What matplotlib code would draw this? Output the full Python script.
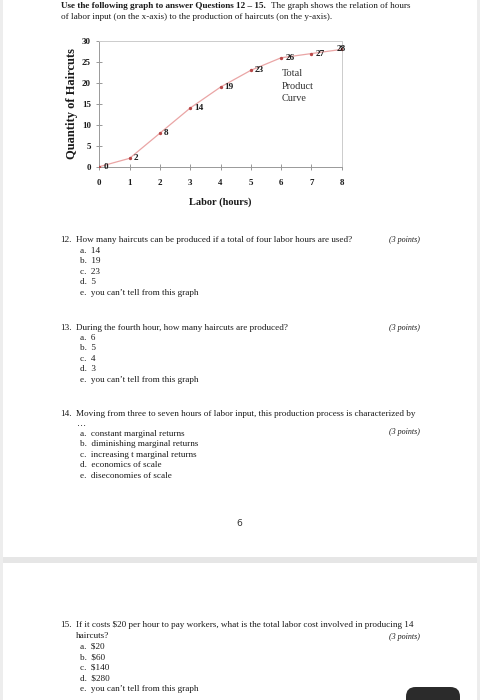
import matplotlib
matplotlib.use("Agg")
from matplotlib import pyplot as plt
from matplotlib.patches import Rectangle, FancyBboxPatch
import numpy as np

plt.rcParams['font.family'] = ['Liberation Serif', 'DejaVu Serif']

hours = [0, 1, 2, 3, 4, 5, 6, 7, 8]
haircuts = [0, 2, 8, 14, 19, 23, 26, 27, 28]
yticks = [0, 5, 10, 15, 20, 25, 30]

W, H = 480, 700
fig = plt.figure(figsize=(W / 100, H / 100), dpi=100)
ink = '#1a1a1a'


def px(x, y):
    # pixel coords (from top-left) -> figure fraction
    return x / W, 1 - y / H


def txt(x, y, s, **kw):
    kw.setdefault('fontsize', 6.6)
    kw.setdefault('color', ink)
    kw.setdefault('va', 'center')
    fx, fy = px(x, y)
    return fig.text(fx, fy, s, **kw)


# page background / card separator
fig.patches.append(Rectangle(px(0, 563), 1, 6 / H, transform=fig.transFigure,
                             facecolor='#e6e6e6', edgecolor='none'))
for x0 in (0, W - 3):
    fig.patches.append(Rectangle((x0 / W, 0), 3 / W, 1, transform=fig.transFigure,
                                 facecolor='#ededed', edgecolor='none'))
fig.patches.append(FancyBboxPatch(px(406, 712), 54 / W, 25 / H, transform=fig.transFigure,
                                  boxstyle='round,pad=0,rounding_size=0.02',
                                  facecolor='#2b2b2b', edgecolor='none', mutation_aspect=W / H))

# header
bold = txt(61, 6, 'Use the following graph to answer Questions 12 – 15.', fontweight='bold')
rend = fig.canvas.get_renderer()
bx = bold.get_window_extent(rend).x1
txt(bx + 5, 6, 'The graph shows the relation of hours')
txt(61, 17, 'of labor input (on the x-axis) to the production of haircuts (on the y-axis).')

# chart
ax = fig.add_axes([99.3 / W, 1 - 166.7 / H, 242.4 / W, 125.7 / H])
ax.plot(hours, haircuts, color='#eaa5a5', lw=0.9, zorder=2)
ax.plot(hours, haircuts, ls='none', marker='o', ms=1.4, color='#b84848', zorder=3)
for i, (hx, hy) in enumerate(zip(hours, haircuts)):
    last = i == len(hours) - 1
    ax.annotate(str(hy), (hx, hy), xytext=(0 if last else 3, 0), textcoords='offset points',
                ha='center' if last else 'left', va='center', fontsize=6.6,
                fontweight='bold', color=ink, zorder=4)
ax.text(6.02, 23.2, 'Total\nProduct\nCurve', fontsize=7.4, color='#333333',
        va='top', ha='left', linespacing=1.45)
ax.set_xlim(0, 8)
ax.set_ylim(0, 30)
ax.set_xticks(hours)
ax.set_yticks(yticks)
ax.tick_params(direction='inout', length=4, width=0.6, colors='#888888',
               labelcolor=ink, labelsize=6.4, pad=7)
ax.tick_params(axis='y', pad=4)
for lab in ax.get_xticklabels() + ax.get_yticklabels():
    lab.set_fontweight('bold')
for side in ('top', 'right'):
    ax.spines[side].set_color('#cccccc')
for side in ('left', 'bottom'):
    ax.spines[side].set_color('#999999')
for sp in ax.spines.values():
    sp.set_linewidth(0.7)
ax.set_xlabel('Labor (hours)', fontsize=7.5, fontweight='bold', color=ink, labelpad=7)
ax.set_ylabel('Quantity of Haircuts', fontsize=9, fontweight='bold', color=ink, labelpad=3)

# questions
opt_x = 80


def question(num, y, lines, opts, opt_y, pts_y=None):
    txt(60, y, num)
    for k, line in enumerate(lines):
        txt(76, y + 10.5 * k, line)
    txt(420, y if pts_y is None else pts_y, '(3 points)', style='italic', fontsize=5.8, ha='right')
    for k, (letter, o) in enumerate(zip('abcde', opts)):
        txt(opt_x, opt_y + 10.6 * k, letter + '.  ' + o)


question('12.', 240, ['How many haircuts can be produced if a total of four labor hours are used?'],
         ['14', '19', '23', '5', 'you can\u2019t tell from this graph'], 250.7)
question('13.', 328.3, ['During the fourth hour, how many haircuts are produced?'],
         ['6', '5', '4', '3', 'you can\u2019t tell from this graph'], 337.5)
question('14.', 414, ['Moving from three to seven hours of labor input, this production process is characterized by',
                      '\u2026'],
         ['constant marginal returns', 'diminishing marginal returns', 'increasing t marginal returns',
          'economics of scale', 'diseconomies of scale'], 433.5, pts_y=432)
txt(239, 524, '6', fontsize=6.6, ha='center', family='DejaVu Sans', color='#333333')
question('15.', 625, ['If it costs $20 per hour to pay workers, what is the total labor cost involved in producing 14',
                      'haircuts?'],
         ['$20', '$60', '$140', '$280', 'you can\u2019t tell from this graph'], 646.7, pts_y=637)

fig.savefig('out.png', dpi=100)
